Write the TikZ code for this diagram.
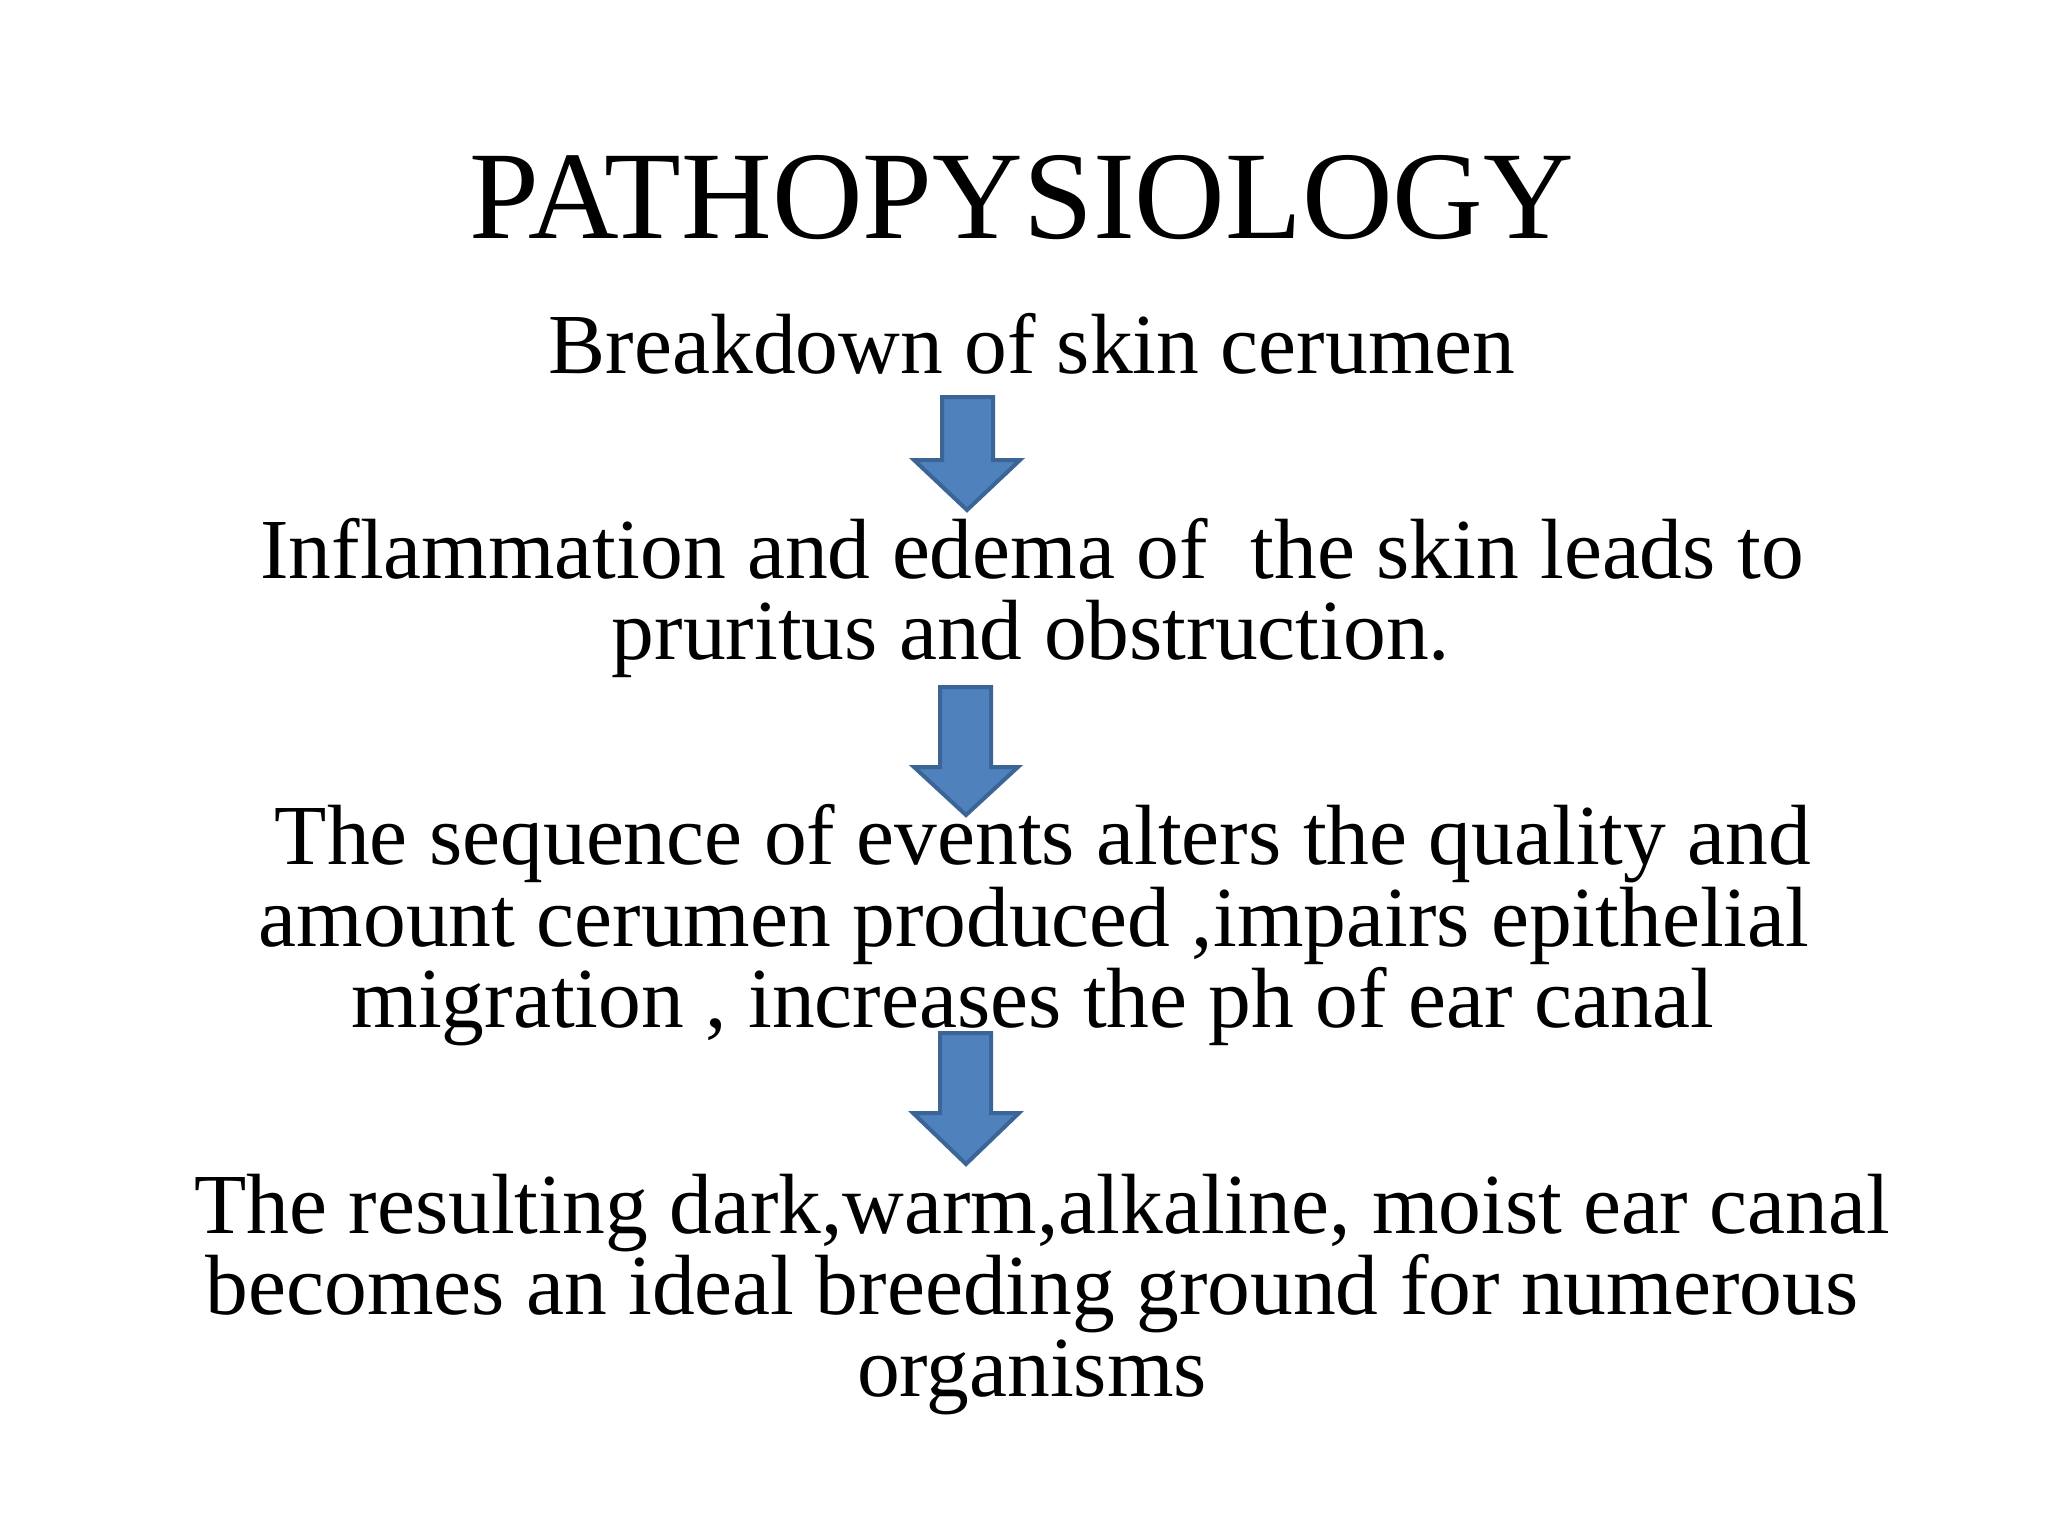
\documentclass[tikz,border=0pt]{standalone}
\usepackage{fontspec}
\setmainfont{Liberation Serif}[Ligatures=NoCommon]
\definecolor{arrowfill}{HTML}{4F81BD}
\definecolor{arrowline}{HTML}{3A6596}
\begin{document}
\begin{tikzpicture}[x=1pt,y=-1pt,
  txt/.style={anchor=base, inner sep=0pt, font=\fontsize{85.5}{81}\selectfont},
  ttl/.style={anchor=base, inner sep=0pt, font=\fontsize{125.5}{125}\selectfont},
  blockarrow/.style={fill=arrowfill, draw=arrowline, line width=4pt, line join=miter}]
\useasboundingbox[fill=white] (0,0) rectangle (2048,1536);
% title
\node[ttl] (title) at (1022,238) {PATHOPYSIOLOGY};
% step 1
\node[txt] (s1) at (1032,373) {Breakdown of skin cerumen};
% step 2
\node[txt] (s2a) at (1032,578) {Inflammation and edema of~~the skin leads to};
\node[txt] (s2b) at (1031,659) {pruritus and obstruction.};
% step 3
\node[txt] (s3a) at (1043,864) {The sequence of events alters the quality and};
\node[txt] (s3b) at (1034,946) {amount cerumen produced ,impairs epithelial};
\node[txt] (s3c) at (1033,1027) {migration , increases the ph of ear canal};
% step 4
\node[txt] (s4a) at (1042,1233) {The resulting dark,warm,alkaline, moist ear canal};
\node[txt] (s4b) at (1032,1314) {becomes an ideal breeding ground for numerous};
\node[txt] (s4c) at (1032,1396) {organisms};
% arrows
\draw[blockarrow] (942,397) -- (993,397) -- (993,460) -- (1020,460) -- (967,510) -- (914,460) -- (942,460) -- cycle;
\draw[blockarrow] (940,687) -- (991,687) -- (991,767) -- (1018,767) -- (966,815) -- (914,767) -- (940,767) -- cycle;
\draw[blockarrow] (940,1033) -- (991,1033) -- (991,1113) -- (1019,1113) -- (966,1164) -- (913,1113) -- (940,1113) -- cycle;
\end{tikzpicture}
\end{document}
